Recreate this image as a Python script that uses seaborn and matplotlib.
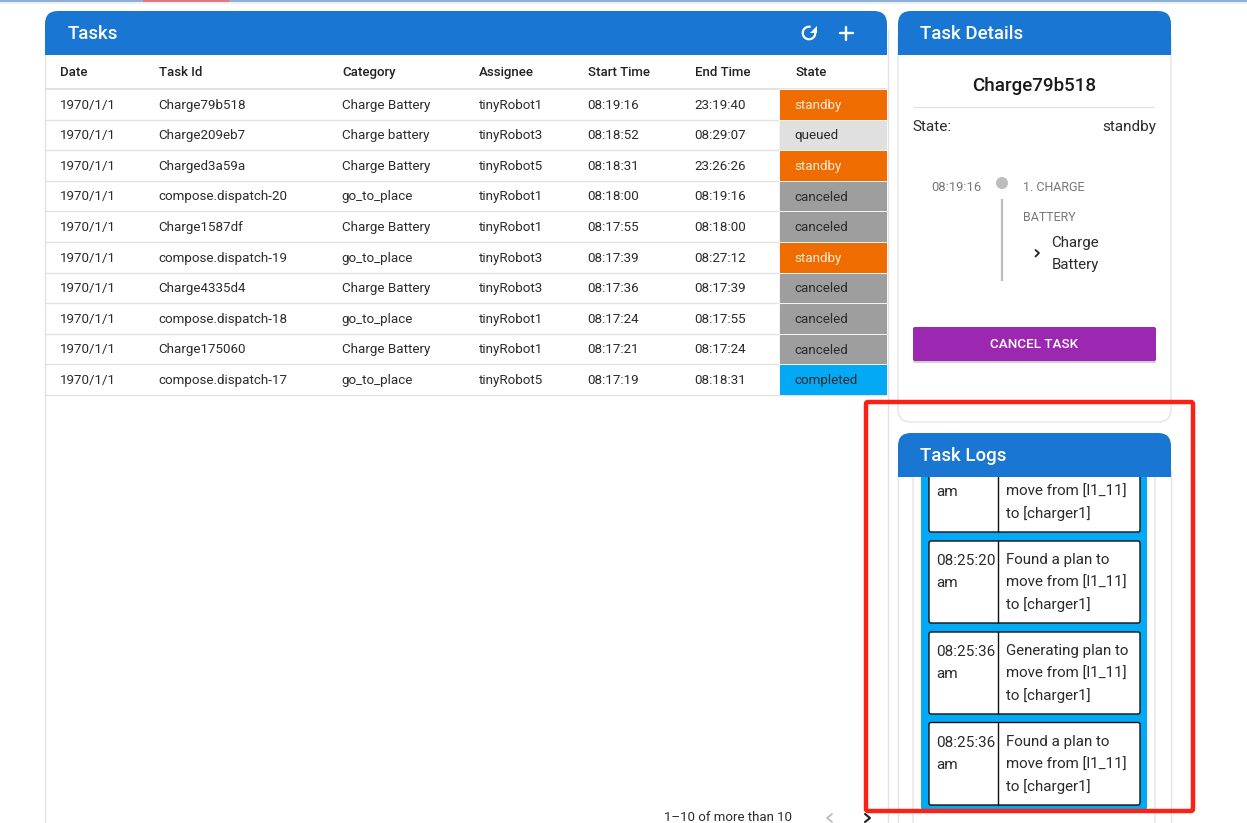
import numpy as np
import matplotlib
matplotlib.use("Agg")
import matplotlib.pyplot as plt
from matplotlib.colors import ListedColormap
from matplotlib.patches import FancyBboxPatch, Rectangle, Circle, Arc, Polygon
import seaborn as sns

# ---------- data ----------
columns = ["Date", "Task Id", "Category", "Assignee", "Start Time", "End Time", "State"]
dates = ["1970/1/1"] * 10
task_ids = ["Charge79b518", "Charge209eb7", "Charged3a59a", "compose.dispatch-20", "Charge1587df",
            "compose.dispatch-19", "Charge4335d4", "compose.dispatch-18", "Charge175060", "compose.dispatch-17"]
categories = ["Charge Battery", "Charge battery", "Charge Battery", "go_to_place", "Charge Battery",
              "go_to_place", "Charge Battery", "go_to_place", "Charge Battery", "go_to_place"]
assignees = ["tinyRobot1", "tinyRobot3", "tinyRobot5", "tinyRobot1", "tinyRobot1",
             "tinyRobot3", "tinyRobot3", "tinyRobot1", "tinyRobot1", "tinyRobot5"]
start_times = ["08:19:16", "08:18:52", "08:18:31", "08:18:00", "08:17:55",
               "08:17:39", "08:17:36", "08:17:24", "08:17:21", "08:17:19"]
end_times = ["23:19:40", "08:29:07", "23:26:26", "08:19:16", "08:18:00",
             "08:27:12", "08:17:39", "08:17:55", "08:17:24", "08:18:31"]
states = ["standby", "queued", "standby", "canceled", "canceled",
          "standby", "canceled", "canceled", "canceled", "completed"]
state_names = ["standby", "queued", "canceled", "completed"]
state_colors = ["#ef6c00", "#e0e0e0", "#9e9e9e", "#03a9f4"]
log_times = ["am", "08:25:20\nam", "08:25:36\nam", "08:25:36\nam"]
log_msgs = ["move from [l1_11]\nto [charger1]",
            "Found a plan to\nmove from [l1_11]\nto [charger1]",
            "Generating plan to\nmove from [l1_11]\nto [charger1]",
            "Found a plan to\nmove from [l1_11]\nto [charger1]"]

# ---------- style ----------
sns.set_theme(style="white")
plt.rcParams["font.family"] = ["Roboto", "DejaVu Sans"]
BLUE = "#1976d2"
INK = "#2b2b2b"
EDGE = "#e2e2e2"
W, H = 1247, 823
fig = plt.figure(figsize=(W / 100, H / 100), dpi=100, facecolor="white")
ax = fig.add_axes([0, 0, 1, 1])
ax.set_xlim(0, W)
ax.set_ylim(H, 0)
ax.axis("off")


def txt(x, y, s, size=9.6, color=INK, ha="left", va="center", weight="normal", **kw):
    return ax.text(x, y + 1, s, fontsize=size, color=color, ha=ha, va=va, fontweight=weight, **kw)


def vline(x, y0, y1, color=EDGE, lw=1.0, z=1):
    ax.plot([x, x], [y0, y1], color=color, lw=lw, zorder=z, solid_capstyle="butt")


def hline(y, x0, x1, color=EDGE, lw=1.0, z=1):
    ax.plot([x0, x1], [y, y], color=color, lw=lw, zorder=z, solid_capstyle="butt")


def header(x0, x1, y0, y1, title, z=2, size=13.4):
    r = 13
    p = FancyBboxPatch((x0 + r, y0 + r), x1 - x0 - 2 * r, y1 - y0, boxstyle=f"round,pad={r},rounding_size={r}",
                       fc=BLUE, ec="none", zorder=z)
    ax.add_patch(p)
    p.set_clip_path(Rectangle((x0, y0), x1 - x0, y1 - y0, transform=ax.transData))
    txt(x0 + 22.5, (y0 + y1) / 2 - 0.5, title, size=size, color="white", weight="medium", zorder=z + 1)


# top strip
ax.add_patch(Rectangle((0, 0), W, 2.2, fc="#8fb0d6", ec="none"))
ax.add_patch(Rectangle((0, 2.2), W, 2, fc="#eef1f5", ec="none"))
ax.add_patch(Rectangle((143, 0), 86, 1.6, fc="#e0787c", ec="none", zorder=2))

# ---------- tasks card ----------
vline(45, 30, H)
vline(888, 30, H)
header(45, 887, 11, 55, "Tasks")
# refresh icon
ax.add_patch(Arc((809, 33), 12.5, 12.5, theta1=-30, theta2=285, color="white", lw=1.6, zorder=4))
ax.add_patch(Polygon([[816.5, 26], [816.5, 33], [809.5, 33]], fc="white", ec="none", zorder=4))
# plus icon
ax.plot([839.5, 852.5], [33, 33], color="white", lw=1.7, zorder=4)
ax.plot([846, 846], [26.5, 39.5], color="white", lw=1.7, zorder=4)

col_x = [60, 159, 342, 479, 588, 695, 795]
row_edges = np.linspace(89, 395, 11)
for x, c in zip(col_x, columns):
    txt(x, 71.5, c, size=9.5, color="#222222", weight="medium")
hline(89, 45, 887, color="#dddddd", lw=1.2)
for i in range(10):
    yc = (row_edges[i] + row_edges[i + 1]) / 2 - 0.2
    for x, s in zip(col_x, (dates[i], task_ids[i], categories[i], assignees[i], start_times[i], end_times[i])):
        txt(x - 0.5, yc, s)
    hline(row_edges[i + 1], 45, 887)

# state column as a one-column heatmap
codes = np.array([[state_names.index(s)] for s in states])
labels = np.array([[s] for s in states])
hax = fig.add_axes([778.5 / W, 1 - 395 / H, 108.5 / W, 306 / H])
sns.heatmap(codes, ax=hax, cmap=ListedColormap(state_colors), vmin=-0.5, vmax=3.5, cbar=False,
            annot=labels, fmt="", xticklabels=False, yticklabels=False, linewidths=0.6, linecolor="#f4f4f4",
            annot_kws={"fontsize": 9.6})
for t, s in zip(hax.texts, states):
    t.set_ha("left")
    t.set_x(16 / 108.5)
    t.set_y(t.get_position()[1] + 0.03)
    t.set_color("#ffe9d6" if s == "standby" else "#2b2b2b")

# pagination
txt(664, 816.5, "1\u201310 of more than 10", size=9.5)
ax.plot([832, 827, 832], [814, 818, 822], color="#bdbdbd", lw=1.3)
ax.plot([865, 870, 865], [814, 818, 822], color="#222222", lw=1.5)

# ---------- task details ----------
ax.add_patch(FancyBboxPatch((911, 40), 247, 369, boxstyle="round,pad=13,rounding_size=13",
                            fc="white", ec="#e4e4e4", lw=1, zorder=1))
header(898, 1171, 11, 55, "Task Details")
txt(1034, 85, task_ids[0], size=13.5, color="#1a1a1a", ha="center", weight="medium")
hline(106.5, 913, 1154)
txt(912.5, 126, "State:", size=11)
txt(1156, 126, states[0], size=11, ha="right")
txt(931, 186, "08:19:16", size=9.4, color="#777777")
ax.add_patch(Circle((1002, 183), 6, fc="#bdbdbd", ec="none", zorder=3))
vline(1002, 199, 281, color="#bdbdbd", lw=1.6)
txt(1023, 186, "1. CHARGE", size=9, color="#777777")
txt(1023, 216, "BATTERY", size=9, color="#777777")
ax.plot([1035.5, 1039, 1035.5], [250, 253, 256.5], color="#222222", lw=1.3)
txt(1051.5, 242, "Charge", size=10.8)
txt(1051.5, 264, "Battery", size=10.8)
ax.add_patch(FancyBboxPatch((915, 331), 239, 30, boxstyle="round,pad=2,rounding_size=2",
                            fc="#cfcfcf", ec="none", zorder=1))
ax.add_patch(FancyBboxPatch((915, 329), 239, 30, boxstyle="round,pad=2,rounding_size=2",
                            fc="#9c27b0", ec="none", zorder=2))
txt(1034.5, 343, "CANCEL TASK", size=9.7, color="white", ha="center", weight="medium", zorder=3)

# ---------- task logs ----------
vline(898, 470, H)
vline(1171, 470, H)
ax.add_patch(FancyBboxPatch((921, 470), 226, 350, boxstyle="round,pad=8,rounding_size=6",
                            fc="white", ec="#e4e4e4", lw=1, zorder=1))
ax.add_patch(FancyBboxPatch((925, 470), 218, 337, boxstyle="round,pad=4,rounding_size=4",
                            fc="#03a9f4", ec="none", zorder=2))
card_tops = [460, 541, 632, 722.5]
card_bots = [532, 623, 714, 805]
for top, bot, tm, msg in zip(card_tops, card_bots, log_times, log_msgs):
    ax.add_patch(FancyBboxPatch((931, top + 2), 207, bot - top - 4, boxstyle="round,pad=2,rounding_size=2",
                                fc="white", ec="#111111", lw=1, zorder=3))
    ax.plot([998, 998], [top, bot], color="#111111", lw=1, zorder=4)
    last_y = bot - 19.5
    msg_lines = msg.split("\n")
    for k, line in enumerate(reversed(msg_lines)):
        txt(1006.5, last_y + 0.3 - 22.2 * k, line, size=10.9, zorder=5)
    t_lines = tm.split("\n")
    t_y0 = last_y - 44.4 if len(t_lines) == 2 else last_y - 22.2
    for k, line in enumerate(t_lines):
        txt(936.5, t_y0 + 1 + 22.2 * k, line, size=11, zorder=5)
# logs header covers the scrolled panel
ax.add_patch(Rectangle((899, 423), 271, 54, fc="white", ec="none", zorder=6))
header(898, 1171, 433, 477, "Task Logs", z=7)

# ---------- red annotation box ----------
ax.add_patch(FancyBboxPatch((866, 402), 327, 409, boxstyle="round,pad=0,rounding_size=2",
                            fc="none", ec="#fb2116", lw=3.2, zorder=10))

fig.savefig("out.png", dpi=100, facecolor="white")
